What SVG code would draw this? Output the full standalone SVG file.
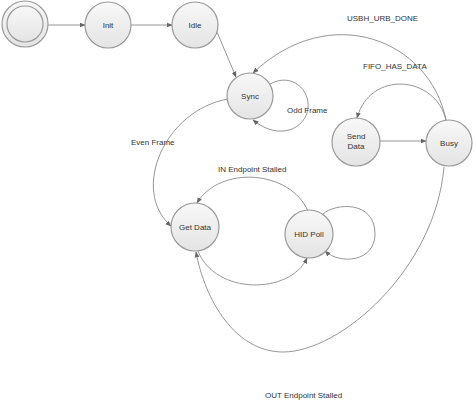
<svg xmlns="http://www.w3.org/2000/svg" width="474" height="400" viewBox="0 0 474 400">
<defs>
<linearGradient id="nodeGrad" x1="0" y1="0" x2="0" y2="1">
<stop offset="0" stop-color="#f8f8f8"/>
<stop offset="1" stop-color="#e4e4e4"/>
</linearGradient>
<marker id="arrow" viewBox="0 0 10 10" refX="9" refY="5" markerWidth="6" markerHeight="6" orient="auto" markerUnits="userSpaceOnUse">
<path d="M0,1 L10,5 L0,9 z" fill="#666"/>
</marker>
</defs>
<style>
.node{fill:url(#nodeGrad);stroke:#9a9a9a;stroke-width:1.2}
.lbl{font-family:"Liberation Sans",Arial,sans-serif;font-size:8px;fill:#333}
.ntxt{font-family:"Liberation Sans",Arial,sans-serif;font-size:8px;fill:#333;text-anchor:middle}
.edge{fill:none;stroke:#8a8a8a;stroke-width:0.9;marker-end:url(#arrow)}
</style>
<rect width="474" height="400" fill="#ffffff"/>
<g id="connectors">
<path class="edge" d="M48,25 L85,25"/>
<path class="edge" d="M131,25 L172,25"/>
<path class="edge" d="M217,32 L236,77"/>
<path class="edge" d="M446,120 C 430,40 330,0 253,73"/>
<path class="edge" d="M446,120 C 435,75 370,70 357,118"/>
<path class="edge" d="M380,141 L426,141"/>
<path class="edge" d="M270,84 C 292,72 310,90 308,108 C 306,128 280,142 253,120"/>
<path class="edge" d="M228,99 C 165,110 130,190 171,226"/>
<path class="edge" d="M308,211 C 290,170 220,165 197,203"/>
<path class="edge" d="M198,251 C 215,295 290,295 307,258"/>
<path class="edge" d="M444,167 C 435,270 340,352 283,352 C 235,352 205,300 196,252"/>
<path class="edge" d="M323,214 C 335,203 375,200 375,234 C 375,262 340,265 325,251"/>
</g>
<g id="labels">
<text class="lbl" x="347" y="21">USBH_URB_DONE</text>
<text class="lbl" x="363" y="69">FIFO_HAS_DATA</text>
<text class="lbl" x="287" y="113">Odd Frame</text>
<text class="lbl" x="131" y="145">Even Frame</text>
<text class="lbl" x="218" y="172">IN Endpoint Stalled</text>
<text class="lbl" x="265" y="398">OUT Endpoint Stalled</text>
</g>
<g id="start">
<circle class="node" cx="25" cy="24" r="23"/>
<circle class="node" cx="25" cy="24" r="18"/>
</g>
<g id="init">
<circle class="node" cx="108" cy="25" r="23"/>
<text class="ntxt" x="108" y="28">Init</text>
</g>
<g id="idle">
<circle class="node" cx="195" cy="25" r="23"/>
<text class="ntxt" x="195" y="28">Idle</text>
</g>
<g id="sync">
<circle class="node" cx="250" cy="96" r="23"/>
<text class="ntxt" x="250" y="99">Sync</text>
</g>
<g id="senddata">
<circle class="node" cx="356" cy="142" r="24"/>
<text class="ntxt" x="356" y="139">Send</text>
<text class="ntxt" x="356" y="149">Data</text>
</g>
<g id="busy">
<circle class="node" cx="449" cy="143" r="23"/>
<text class="ntxt" x="449" y="146">Busy</text>
</g>
<g id="getdata">
<circle class="node" cx="195" cy="227" r="24"/>
<text class="ntxt" x="195" y="230">Get Data</text>
</g>
<g id="hidpoll">
<circle class="node" cx="309" cy="234" r="24"/>
<text class="ntxt" x="309" y="237">HID Poll</text>
</g>
</svg>
